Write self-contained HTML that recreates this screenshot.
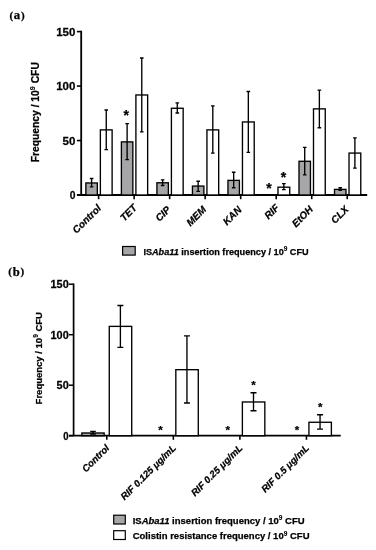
<!DOCTYPE html>
<html><head><meta charset="utf-8"><style>
html,body{margin:0;padding:0;background:#fff;}
body{width:376px;height:550px;overflow:hidden;}
svg{display:block;filter:blur(0.25px);}
text{font-family:"Liberation Sans",Arial,sans-serif;fill:#000;stroke:#000;stroke-width:0.25px;}
.yl{font-weight:bold;}
.xl{font-weight:bold;font-style:italic;}
.yt{font-weight:bold;}
.lg{font-weight:bold;}
.st{font-weight:bold;}
.sup{stroke-width:0.1px;}
.pl{font-family:"Liberation Serif","Times New Roman",serif;font-weight:bold;}
</style></head><body>
<svg width="376" height="550" viewBox="0 0 376 550">
<rect width="376" height="550" fill="#fff"/>
<path d="M81.2 30.8V195.0M77 195.0H367.2" stroke="#000" stroke-width="1.8" fill="none"/>
<path d="M76.9 31.6H81.2" stroke="#000" stroke-width="1.6"/>
<text transform="translate(75.4 35.60) scale(1.03 1)" text-anchor="end" class="yl" font-size="11.2">150</text>
<path d="M76.9 86.05H81.2" stroke="#000" stroke-width="1.6"/>
<text transform="translate(75.4 90.05) scale(1.03 1)" text-anchor="end" class="yl" font-size="11.2">100</text>
<path d="M76.9 140.55H81.2" stroke="#000" stroke-width="1.6"/>
<text transform="translate(75.4 144.55) scale(1.03 1)" text-anchor="end" class="yl" font-size="11.2">50</text>
<path d="M76.9 195.0H81.2" stroke="#000" stroke-width="1.6"/>
<text transform="translate(75.4 199.00) scale(0.92 1)" text-anchor="end" class="yl" font-size="11.2">0</text>
<path d="M98.60 195.0V199.2" stroke="#000" stroke-width="1.6"/>
<path d="M134.12 195.0V199.2" stroke="#000" stroke-width="1.6"/>
<path d="M169.64 195.0V199.2" stroke="#000" stroke-width="1.6"/>
<path d="M205.16 195.0V199.2" stroke="#000" stroke-width="1.6"/>
<path d="M240.68 195.0V199.2" stroke="#000" stroke-width="1.6"/>
<path d="M276.20 195.0V199.2" stroke="#000" stroke-width="1.6"/>
<path d="M311.72 195.0V199.2" stroke="#000" stroke-width="1.6"/>
<path d="M347.24 195.0V199.2" stroke="#000" stroke-width="1.6"/>
<rect x="85.87" y="182.97" width="11.45" height="12.03" fill="#a6a6a8" stroke="#000" stroke-width="1.35"/>
<path d="M91.60 178.50V186.90M89.80 178.50H93.40M89.80 186.90H93.40" stroke="#000" stroke-width="1.35" fill="none"/>
<rect x="100.37" y="129.88" width="11.75" height="65.12" fill="#fff" stroke="#000" stroke-width="1.35"/>
<path d="M106.25 110.00V149.60M104.45 110.00H108.05M104.45 149.60H108.05" stroke="#000" stroke-width="1.35" fill="none"/>
<rect x="121.39" y="141.88" width="11.45" height="53.12" fill="#a6a6a8" stroke="#000" stroke-width="1.35"/>
<path d="M127.12 123.60V159.60M125.32 123.60H128.92M125.32 159.60H128.92" stroke="#000" stroke-width="1.35" fill="none"/>
<rect x="135.90" y="94.97" width="11.75" height="100.03" fill="#fff" stroke="#000" stroke-width="1.35"/>
<path d="M141.77 58.00V131.90M139.97 58.00H143.57M139.97 131.90H143.57" stroke="#000" stroke-width="1.35" fill="none"/>
<rect x="156.91" y="182.78" width="11.45" height="12.22" fill="#a6a6a8" stroke="#000" stroke-width="1.35"/>
<path d="M162.64 179.90V185.50M160.84 179.90H164.44M160.84 185.50H164.44" stroke="#000" stroke-width="1.35" fill="none"/>
<rect x="171.41" y="108.27" width="11.75" height="86.73" fill="#fff" stroke="#000" stroke-width="1.35"/>
<path d="M177.29 102.80V113.00M175.49 102.80H179.09M175.49 113.00H179.09" stroke="#000" stroke-width="1.35" fill="none"/>
<rect x="192.44" y="186.08" width="11.45" height="8.92" fill="#a6a6a8" stroke="#000" stroke-width="1.35"/>
<path d="M198.16 181.20V191.30M196.36 181.20H199.96M196.36 191.30H199.96" stroke="#000" stroke-width="1.35" fill="none"/>
<rect x="206.94" y="129.88" width="11.75" height="65.12" fill="#fff" stroke="#000" stroke-width="1.35"/>
<path d="M212.81 105.90V153.10M211.01 105.90H214.61M211.01 153.10H214.61" stroke="#000" stroke-width="1.35" fill="none"/>
<rect x="227.96" y="180.38" width="11.45" height="14.62" fill="#a6a6a8" stroke="#000" stroke-width="1.35"/>
<path d="M233.68 172.20V187.70M231.88 172.20H235.48M231.88 187.70H235.48" stroke="#000" stroke-width="1.35" fill="none"/>
<rect x="242.46" y="121.97" width="11.75" height="73.03" fill="#fff" stroke="#000" stroke-width="1.35"/>
<path d="M248.33 91.50V152.30M246.53 91.50H250.13M246.53 152.30H250.13" stroke="#000" stroke-width="1.35" fill="none"/>
<rect x="277.98" y="187.18" width="11.75" height="7.82" fill="#fff" stroke="#000" stroke-width="1.35"/>
<path d="M283.85 183.60V189.60M282.05 183.60H285.65M282.05 189.60H285.65" stroke="#000" stroke-width="1.35" fill="none"/>
<rect x="299.00" y="161.28" width="11.45" height="33.72" fill="#a6a6a8" stroke="#000" stroke-width="1.35"/>
<path d="M304.72 147.40V174.90M302.92 147.40H306.52M302.92 174.90H306.52" stroke="#000" stroke-width="1.35" fill="none"/>
<rect x="313.50" y="108.87" width="11.75" height="86.13" fill="#fff" stroke="#000" stroke-width="1.35"/>
<path d="M319.37 90.10V127.70M317.57 90.10H321.17M317.57 127.70H321.17" stroke="#000" stroke-width="1.35" fill="none"/>
<rect x="334.52" y="189.38" width="11.45" height="5.62" fill="#a6a6a8" stroke="#000" stroke-width="1.35"/>
<path d="M340.24 187.70V190.40M338.44 187.70H342.04M338.44 190.40H342.04" stroke="#000" stroke-width="1.35" fill="none"/>
<rect x="349.02" y="153.08" width="11.75" height="41.92" fill="#fff" stroke="#000" stroke-width="1.35"/>
<path d="M354.89 137.80V168.10M353.09 137.80H356.69M353.09 168.10H356.69" stroke="#000" stroke-width="1.35" fill="none"/>
<text x="126.20" y="119.60" font-size="14" text-anchor="middle" class="st">*</text>
<text x="269.00" y="193.40" font-size="14" text-anchor="middle" class="st">*</text>
<text x="283.40" y="181.80" font-size="14" text-anchor="middle" class="st">*</text>
<text transform="translate(101.70 208.9) rotate(-45)" text-anchor="end" class="xl" font-size="10">Control</text>
<text transform="translate(137.62 208.5) rotate(-45)" text-anchor="end" class="xl" font-size="10">TET</text>
<text transform="translate(171.24 210.3) rotate(-45)" text-anchor="end" class="xl" font-size="10">CIP</text>
<text transform="translate(206.96 210.2) rotate(-45)" text-anchor="end" class="xl" font-size="10">MEM</text>
<text transform="translate(242.28 210.4) rotate(-45)" text-anchor="end" class="xl" font-size="10">KAN</text>
<text transform="translate(279.80 208.4) rotate(-45)" text-anchor="end" class="xl" font-size="10">RIF</text>
<text transform="translate(313.72 210.0) rotate(-45)" text-anchor="end" class="xl" font-size="10">EtOH</text>
<text transform="translate(349.24 210.0) rotate(-45)" text-anchor="end" class="xl" font-size="10">CLX</text>
<text transform="translate(39.35 162.3) rotate(-90)" class="yt" font-size="10.3">Frequency / 10<tspan dy="-3.9" font-size="7.2" class="sup">9</tspan><tspan dy="3.9"> CFU</tspan></text>
<rect x="122.6" y="246.5" width="12.6" height="8.6" fill="#a6a6a8" stroke="#000" stroke-width="1.2"/>
<text transform="translate(143.4 254.6)" class="lg" font-size="9.15">IS<tspan font-style="italic">Aba11</tspan> insertion frequency / 10<tspan dy="-3.5" font-size="6.5" class="sup">9</tspan><tspan dy="3.5"> CFU</tspan></text>
<text x="9.4" y="19.4" class="pl" font-size="12.8" letter-spacing="0.8"><tspan font-size="11" dy="-0.6">(</tspan><tspan dy="0.6">a</tspan><tspan font-size="11" dy="-0.6">)</tspan></text>
<path d="M73.6 283.4V435.7M69.0 435.7H340.7" stroke="#000" stroke-width="1.7" fill="none"/>
<path d="M69.0 284.2H73.6" stroke="#000" stroke-width="1.5"/>
<text transform="translate(68.7 288.20) scale(1.08 1)" text-anchor="end" class="yl" font-size="10.1">150</text>
<path d="M69.0 334.7H73.6" stroke="#000" stroke-width="1.5"/>
<text transform="translate(68.7 338.70) scale(1.08 1)" text-anchor="end" class="yl" font-size="10.1">100</text>
<path d="M69.0 385.2H73.6" stroke="#000" stroke-width="1.5"/>
<text transform="translate(68.7 389.20) scale(1.08 1)" text-anchor="end" class="yl" font-size="10.1">50</text>
<path d="M69.0 435.7H73.6" stroke="#000" stroke-width="1.5"/>
<text transform="translate(68.7 439.70) scale(0.95 1)" text-anchor="end" class="yl" font-size="10.1">0</text>
<path d="M106.80 435.7V439.8" stroke="#000" stroke-width="1.6"/>
<path d="M173.35 435.7V439.8" stroke="#000" stroke-width="1.6"/>
<path d="M239.90 435.7V439.8" stroke="#000" stroke-width="1.6"/>
<path d="M306.45 435.7V439.8" stroke="#000" stroke-width="1.6"/>
<rect x="81.88" y="432.98" width="22.25" height="2.72" fill="#a6a6a8" stroke="#000" stroke-width="1.35"/>
<path d="M93.00 431.40V434.00M90.20 431.40H95.80M90.20 434.00H95.80" stroke="#000" stroke-width="1.35" fill="none"/>
<rect x="109.27" y="326.38" width="22.45" height="109.32" fill="#fff" stroke="#000" stroke-width="1.35"/>
<path d="M120.40 305.50V347.30M117.40 305.50H123.40M117.40 347.30H123.40" stroke="#000" stroke-width="1.35" fill="none"/>
<rect x="175.83" y="369.68" width="22.45" height="66.02" fill="#fff" stroke="#000" stroke-width="1.35"/>
<path d="M186.95 335.90V403.00M183.95 335.90H189.95M183.95 403.00H189.95" stroke="#000" stroke-width="1.35" fill="none"/>
<rect x="242.38" y="401.98" width="22.45" height="33.72" fill="#fff" stroke="#000" stroke-width="1.35"/>
<path d="M253.50 392.70V410.70M250.50 392.70H256.50M250.50 410.70H256.50" stroke="#000" stroke-width="1.35" fill="none"/>
<rect x="308.93" y="422.27" width="22.45" height="13.43" fill="#fff" stroke="#000" stroke-width="1.35"/>
<path d="M320.05 414.70V429.10M317.05 414.70H323.05M317.05 429.10H323.05" stroke="#000" stroke-width="1.35" fill="none"/>
<text x="160.50" y="433.60" font-size="11.5" text-anchor="middle" class="st">*</text>
<text x="227.70" y="433.60" font-size="11.5" text-anchor="middle" class="st">*</text>
<text x="296.90" y="433.60" font-size="11.5" text-anchor="middle" class="st">*</text>
<text x="253.60" y="389.40" font-size="11.5" text-anchor="middle" class="st">*</text>
<text x="320.30" y="411.00" font-size="11.5" text-anchor="middle" class="st">*</text>
<text transform="translate(110.00 448.6) rotate(-45)" text-anchor="end" class="xl" font-size="9.6">Control</text>
<text transform="translate(176.55 448.6) rotate(-45)" text-anchor="end" class="xl" font-size="9.6">RIF 0.125 μg/mL</text>
<text transform="translate(243.10 448.6) rotate(-45)" text-anchor="end" class="xl" font-size="9.6">RIF 0.25 μg/mL</text>
<text transform="translate(309.65 448.6) rotate(-45)" text-anchor="end" class="xl" font-size="9.6">RIF 0.5 μg/mL</text>
<text transform="translate(42.0 404.4) rotate(-90)" class="yt" font-size="9.5">Frequency / 10<tspan dy="-3.6" font-size="6.6" class="sup">9</tspan><tspan dy="3.6"> CFU</tspan></text>
<rect x="113.7" y="515.2" width="11.6" height="8.8" fill="#a6a6a8" stroke="#000" stroke-width="1.2"/>
<rect x="113.7" y="530.7" width="11.6" height="8.8" fill="#fff" stroke="#000" stroke-width="1.2"/>
<text x="132.7" y="523.5" class="lg" font-size="9.5">IS<tspan font-style="italic">Aba11</tspan> insertion frequency / 10<tspan dy="-3.5" font-size="6.5" class="sup">9</tspan><tspan dy="3.5"> CFU</tspan></text>
<text x="132.7" y="539.3" class="lg" font-size="9.5">Colistin resistance frequency / 10<tspan dy="-3.5" font-size="6.5" class="sup">9</tspan><tspan dy="3.5"> CFU</tspan></text>
<text x="8.2" y="276.0" class="pl" font-size="12.6" letter-spacing="0.8"><tspan font-size="11" dy="-1.1">(</tspan><tspan dy="1.1">b</tspan><tspan font-size="11" dy="-1.1">)</tspan></text>
</svg>
</body></html>
